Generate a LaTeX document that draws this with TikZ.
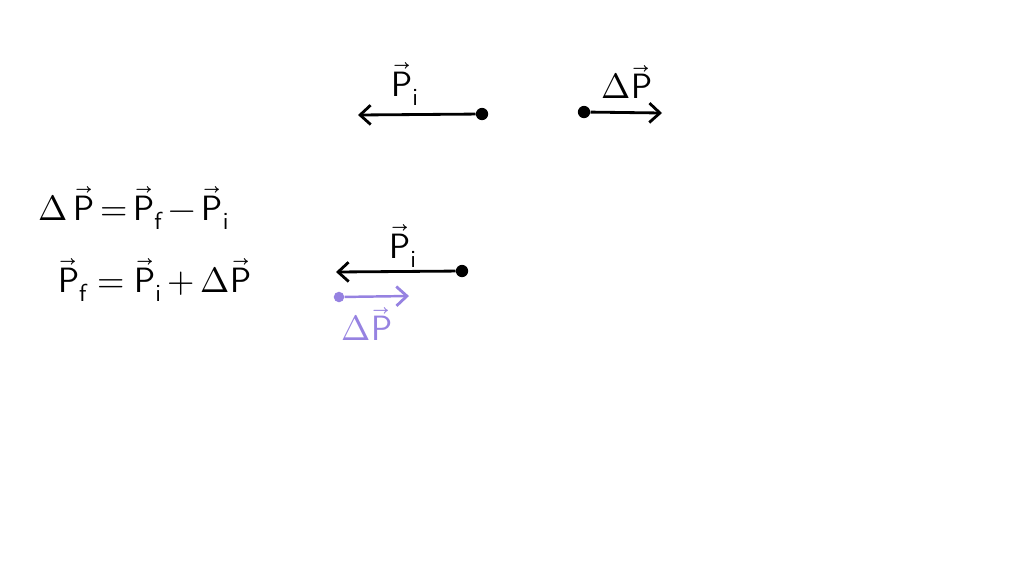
\documentclass[tikz,border=0pt]{standalone}
\usepackage{fontspec}
\setmainfont{Liberation Sans}
\usepackage{unicode-math}
\setmathfont{Latin Modern Math}
\usetikzlibrary{arrows.meta}
\definecolor{vio}{RGB}{150,130,225}
\newcommand{\Pv}{\vec{\mathsf{P}}}
\newcommand{\sbf}{\mathsf{f}}
\newcommand{\sbi}{\mathsf{i}}
\tikzset{
  vec/.style={line width=1.6pt,-{Straight Barb[length=6pt,width=11pt,line width=1.6pt]}},
  dotn/.style={circle,fill,inner sep=0pt,minimum size=7pt},
  lab/.style={inner sep=1pt,font=\fontsize{20}{22}\selectfont},
  eq/.style={inner sep=1pt,font=\fontsize{20}{22}\selectfont,anchor=west}
}
\begin{document}
\begin{tikzpicture}[x=0.02cm,y=-0.02cm]
\useasboundingbox (0,0) rectangle (1024,576);
% top left vector
\node[dotn] (a1) at (482,114) {};
\coordinate (a2) at (358,115);
\draw[vec] (a1) -- (a2);
\node[lab] (la) at (405,84) {$\Pv_\sbi$};
% top right vector
\node[dotn] (b1) at (584,112) {};
\coordinate (b2) at (662,113);
\draw[vec] (b1) -- (b2);
\node[lab] (lb) at (627,82) {$\Delta\Pv$};
% equations
\node[eq] (e1) at (36,208) {$\Delta\,\Pv{\,=\,}\Pv_\sbf{\,-\,}\Pv_\sbi$};
\node[eq] (e2) at (56,280) {$\Pv_\sbf\;{=}\;\Pv_\sbi{\,+\,}\Delta\Pv$};
% middle vector
\node[dotn] (c1) at (462,271) {};
\coordinate (c2) at (336,272);
\draw[vec] (c1) -- (c2);
\node[lab] (lc) at (403,246) {$\Pv_\sbi$};
% purple vector
\node[dotn,vio,minimum size=6pt] (d1) at (339,297) {};
\coordinate (d2) at (409,296);
\draw[vec,vio,line width=1.4pt] (d1) -- (d2);
\node[lab,vio] (ld) at (367,324) {$\Delta\Pv$};
\end{tikzpicture}
\end{document}
